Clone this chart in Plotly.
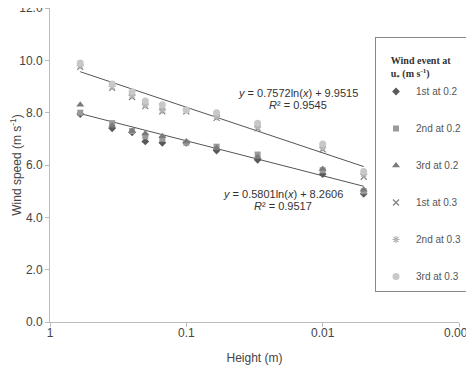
import numpy as np
import plotly.graph_objects as go

heights = [0.6, 0.35, 0.25, 0.2, 0.15, 0.1, 0.06, 0.03, 0.01, 0.005]

series_names = ["1st at 0.2", "2nd at 0.2", "3rd at 0.2", "1st at 0.3", "2nd at 0.3", "3rd at 0.3"]
s1 = [7.95, 7.4, 7.25, 6.9, 6.85, 6.85, 6.55, 6.2, 5.65, 4.9]
s2 = [8.0, 7.6, 7.3, 7.1, 7.0, 6.85, 6.7, 6.4, 5.8, 5.0]
s3 = [8.3, 7.5, 7.3, 7.2, 7.1, 6.9, 6.65, 6.3, 5.85, 5.05]
s4 = [9.75, 8.95, 8.6, 8.25, 8.05, 8.05, 7.8, 7.4, 6.6, 5.55]
s5 = [9.8, 9.0, 8.65, 8.3, 8.1, 8.1, 7.85, 7.45, 6.65, 5.65]
s6 = [9.9, 9.1, 8.8, 8.45, 8.3, 8.1, 8.0, 7.6, 6.8, 5.75]

# trend line coefficients: y = a*ln(x) + b, R²
upper_fit = (0.7572, 9.9515, 0.9545)
lower_fit = (0.5801, 8.2606, 0.9517)

x_ticks = [1, 0.1, 0.01, 0.001]
x_tick_labels = ["1", "0.1", "0.01", "0.001"]
y_ticks = [0, 2, 4, 6, 8, 10, 12]

styles = [
    dict(symbol="diamond", size=6, color="#5a5a5a"),
    dict(symbol="square", size=6, color="#9a9a9a"),
    dict(symbol="triangle-up", size=7, color="#7a7a7a"),
    dict(symbol="x-thin-open", size=6, color="#808080", line=dict(width=1.2, color="#808080")),
    dict(symbol="asterisk-open", size=6, color="#b5b5b5", line=dict(width=1.2, color="#b5b5b5")),
    dict(symbol="circle", size=7, color="#c8c8c8"),
]

fig = go.Figure()

h = np.array(heights)
for fit in (upper_fit, lower_fit):
    a, b, r2 = fit
    fig.add_trace(go.Scatter(x=h, y=a * np.log(h) + b, mode="lines",
                             line=dict(color="#555555", width=1), showlegend=False,
                             hoverinfo="skip"))

for i, (name, vals) in enumerate(zip(series_names, [s1, s2, s3, s4, s5, s6])):
    st = styles[i]
    marker = dict(symbol=st["symbol"], size=st["size"], color=st["color"])
    if "line" in st:
        marker["line"] = st["line"]
    fig.add_trace(go.Scatter(x=heights, y=vals, mode="markers", name=name,
                             marker=marker, legendgroup=f"g{i}"))

def eq_text(fit):
    a, b, r2 = fit
    return f"<i>y</i> = {a:.4f}ln(<i>x</i>) + {b:.4f}", f"<i>R</i>² = {r2:.4f}"

u1, u2 = eq_text(upper_fit)
l1, l2 = eq_text(lower_fit)
ann_font = dict(family="Liberation Sans, Arial", size=11, color="#333333")
annotations = [
    dict(x=-1.819, y=8.75, text=u1),
    dict(x=-1.819, y=8.29, text=u2),
    dict(x=-1.709, y=4.89, text=l1),
    dict(x=-1.709, y=4.43, text=l2),
]
for an in annotations:
    fig.add_annotation(xref="x", yref="y", showarrow=False, font=ann_font, **an)

fig.update_layout(
    width=466, height=357,
    margin=dict(l=42, r=15, t=0, b=43, autoexpand=False),
    paper_bgcolor="white", plot_bgcolor="white",
    font=dict(family="Liberation Sans, Arial", size=12, color="#444444"),
    legend=dict(
        x=1.0196, y=0.9076, xanchor="right", yanchor="top",
        bordercolor="#888888", borderwidth=1, bgcolor="white",
        font=dict(family="Liberation Sans, Arial", size=10, color="#555555"),
        title=dict(text=" <br><b>Wind event at</b><br><b>u<sub>*</sub> (m s<sup>-1</sup>)</b>",
                   side="top center",
                   font=dict(family="Liberation Serif, Times New Roman", size=10, color="#333333")),
        tracegroupgap=18, itemwidth=30,
    ),
    xaxis=dict(
        type="log", range=[0, -3], tickvals=x_ticks, ticktext=x_tick_labels,
        showgrid=False, zeroline=False, showline=True, linecolor="#bbbbbb",
        ticks="outside", ticklen=4, tickcolor="#bbbbbb", ticklabeloverflow="allow",
        ticklabelstandoff=-4,
        automargin=False,
        title=dict(text="Height (m)", font=dict(size=12, color="#444444")),
    ),
    yaxis=dict(
        range=[0, 12], tickvals=y_ticks, tickformat=".1f",
        showgrid=False, zeroline=False, showline=True, linecolor="#bbbbbb",
        ticks="outside", ticklen=4, tickcolor="#bbbbbb", ticklabeloverflow="allow",
        automargin=False,
        title=dict(text="Wind speed (m s<sup>-1</sup>)", font=dict(size=12, color="#444444")),
    ),
)

fig.write_html("out.html")
